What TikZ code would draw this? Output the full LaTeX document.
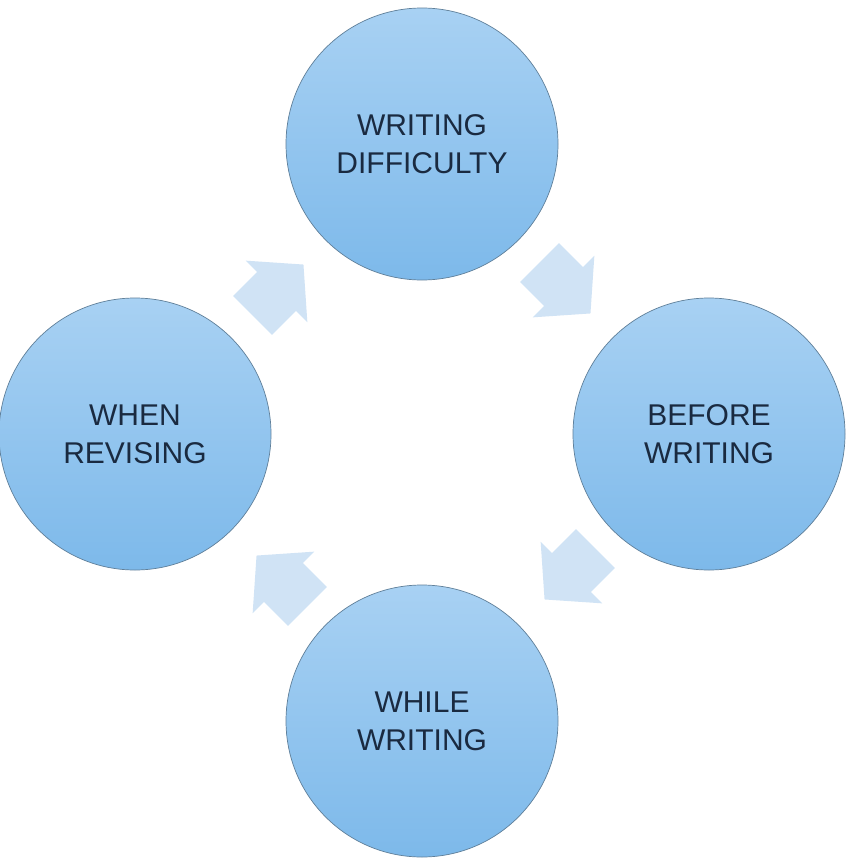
\documentclass[tikz,border=0pt]{standalone}
\usepackage{fontspec}
\setmainfont{Liberation Sans}
\definecolor{circtop}{HTML}{A8D1F3}
\definecolor{circbot}{HTML}{7DB9EA}
\definecolor{circline}{HTML}{5F7F99}
\definecolor{arrowfill}{HTML}{D0E3F5}
\definecolor{textcol}{HTML}{1A2A40}
\tikzset{
  stage/.style={circle, minimum size=272pt, inner sep=0pt, draw=circline, line width=0.7pt,
    top color=circtop, bottom color=circbot, align=center, text=textcol,
    font=\fontsize{30}{38}\selectfont},
  blockarrow/.pic={
    \fill[arrowfill] (-36,-27.5) -- (-2,-27.5) -- (-2,-43.5) -- (36,0) -- (-2,43.5) -- (-2,27.5) -- (-36,27.5) -- cycle;
  }
}
\begin{document}
\begin{tikzpicture}[x=1pt,y=-1pt]
\useasboundingbox (0,0) rectangle (851,859);
\fill[white] (0,0) rectangle (851,859);
\node[stage] (top) at (422,144) {WRITING\\DIFFICULTY};
\node[stage] (right) at (709,434) {BEFORE\\WRITING};
\node[stage] (bottom) at (422,721) {WHILE\\WRITING};
\node[stage] (left) at (135,434) {WHEN\\REVISING};
\pic[rotate=45] at (278,290) {blockarrow};
\pic[rotate=-45] at (565,288) {blockarrow};
\pic[rotate=-135] at (570,574) {blockarrow};
\pic[rotate=135] at (282,581) {blockarrow};
\end{tikzpicture}
\end{document}
